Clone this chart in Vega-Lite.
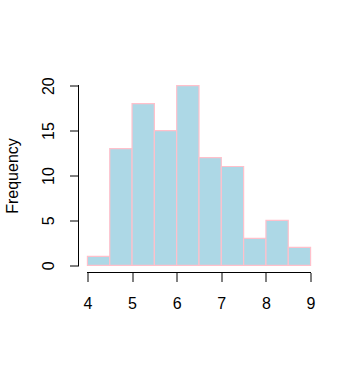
{
  "$schema": "https://vega.github.io/schema/vega-lite/v6.json",
  "autosize": "none",
  "width": 241,
  "height": 194,
  "padding": {"left": 78.5, "top": 78.5, "right": 40.5, "bottom": 98.5},
  "background": "white",
  "config": {"view": {"stroke": null}},
  "data": {"values": [
    {"start": 4.0, "end": 4.5, "count": 1},
    {"start": 4.5, "end": 5.0, "count": 13},
    {"start": 5.0, "end": 5.5, "count": 18},
    {"start": 5.5, "end": 6.0, "count": 15},
    {"start": 6.0, "end": 6.5, "count": 20},
    {"start": 6.5, "end": 7.0, "count": 12},
    {"start": 7.0, "end": 7.5, "count": 11},
    {"start": 7.5, "end": 8.0, "count": 3},
    {"start": 8.0, "end": 8.5, "count": 5},
    {"start": 8.5, "end": 9.0, "count": 2}
  ]},
  "layer": [
    {
      "mark": {"type": "rect", "fill": "#ADD8E6", "stroke": "#FFC0CB", "strokeWidth": 1.2},
      "encoding": {
        "x": {"field": "start", "type": "quantitative",
              "scale": {"domain": [3.8, 9.2], "nice": false, "zero": false},
              "axis": {"values": [4, 5, 6, 7, 8, 9], "domain": false, "grid": false,
                       "tickColor": "black", "tickSize": 9, "labelPadding": 14,
                       "labelFont": "Liberation Sans", "labelFontSize": 16, "labelColor": "black",
                       "title": null}},
        "x2": {"field": "end"},
        "y": {"field": "count", "type": "quantitative",
              "scale": {"domain": [-0.8, 20.8], "nice": false, "zero": false},
              "axis": {"values": [0, 5, 10, 15, 20], "domain": false, "grid": false,
                       "tickColor": "black", "tickSize": 9, "labelPadding": 13,
                       "labelAngle": -90, "labelAlign": "center", "labelBaseline": "bottom",
                       "labelFont": "Liberation Sans", "labelFontSize": 16, "labelColor": "black",
                       "title": "Frequency", "titleFont": "Liberation Sans", "titleFontSize": 16,
                       "titleFontWeight": "normal", "titleColor": "black",
                       "titleX": -58, "titleY": 97, "titleAngle": -90, "titleBaseline": "bottom", "titleAlign": "center"}},
        "y2": {"datum": 0}
      }
    },
    {
      "mark": {"type": "rule", "color": "black", "strokeWidth": 1},
      "encoding": {"x": {"datum": 4}, "x2": {"datum": 9}, "y": {"datum": -0.8}}
    },
    {
      "mark": {"type": "rule", "color": "black", "strokeWidth": 1},
      "encoding": {"x": {"datum": 3.8}, "y": {"datum": 0}, "y2": {"datum": 20}}
    }
  ]
}
